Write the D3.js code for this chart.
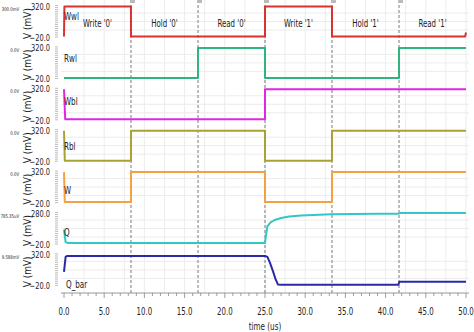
<!DOCTYPE html>
<html><head><meta charset="utf-8">
<script src="https://cdn.jsdelivr.net/npm/d3@7"></script>
<style>
html,body{margin:0;padding:0;background:#fff;}
svg{display:block;font-family:"DejaVu Sans Condensed","Liberation Sans",Arial,sans-serif;}
</style></head>
<body><svg id="c" width="474" height="332"></svg>
<script>
// ---- data ----
const signalNames = ["Wwl","Rwl","Wbl","Rbl","W","Q","Q_bar"];
const cursorValues = ["300.0mV","0.0V","0.0V","0.0V","0.0V","785.35uV","9.588mV"];
const yTop = [320,320,320,320,320,280,320];
const yBottom = [-20,-20,-20,-20,-20,-20,-20];
const phaseLabels = ["Write '0'","Hold '0'","Read '0'","Write '1'","Hold '1'","Read '1'"];
const phaseBounds = [0,8.33,16.67,25,33.33,41.67,50];
const xTicks = [0,5,10,15,20,25,30,35,40,45,50];

const wwlT = [0,0.05,8.33,8.33,25,25,33.33,33.33,49.9,50];
const wwlV = [0,300,300,0,0,300,300,0,0,40];
const rwlT = [0,16.67,16.67,25,25,41.67,41.67,50];
const rwlV = [0,0,300,300,0,0,300,300];
const wblT = [0,0.15,25,25,50];
const wblV = [300,0,0,300,300];
const rblT = [0,0.1,8.33,8.33,25,25,33.33,33.33,50];
const rblV = [300,0,0,300,300,0,0,300,300];
const wT = [0,0.1,8.33,8.33,25,25,33.33,33.33,50];
const wV = [300,0,0,300,300,0,0,300,300];
const qT = [0,0.2,0.5,25,25.1,25.3,25.7,26.2,27,28,29.5,31,33.3,36,39,41.6,41.8,50];
const qV = [120,10,2,2,60,150,185,205,222,235,244,250,255,258,260,261,266,267];
const qbT = [0,0.2,0.4,25,25.3,25.6,26,26.3,26.6,27,41.6,41.7,50];
const qbV = [130,280,290,290,280,225,135,60,5,2,2,32,32];
const seriesT = [wwlT,rwlT,wblT,rblT,wT,qT,qbT];
const seriesV = [wwlV,rwlV,wblV,rblV,wV,qV,qbV];
const colors = ["#d8332f","#2fb37f","#e027e0","#a8a235","#f5a043","#33c6c6","#2a2aa6"];

// ---- layout ----
const svg = d3.select("#c");
const x = d3.scaleLinear().domain([0,50]).range([64,466]);
const plotLeft = 61, plotRight = 469;
const panelTop = i => 4.5 + 41.4*i;
const panelH = 34;
const axisY = 293;
const nameOffset = [12,13,14,18,20,21,0];

function txt(px, py, s, size, anchor, sx, rot){
  const g = svg.append("g").attr("transform",`translate(${px},${py})${rot?` rotate(${rot})`:""} scale(${sx},1)`);
  g.append("text").attr("x",0).attr("y",0).attr("text-anchor",anchor||"start")
    .attr("font-size",size).attr("fill","#222").text(s);
  return g;
}

// grid
const grid = svg.append("g");
for (let i=0;i<7;i++){
  const t = panelTop(i);
  for (let k=1;k<4;k++){
    grid.append("line").attr("x1",plotLeft).attr("x2",plotRight)
      .attr("y1",t+panelH*k/4).attr("y2",t+panelH*k/4)
      .attr("stroke","#ececec").attr("stroke-width",1);
  }
}
d3.range(2.5,50.1,2.5).forEach(v=>{
  grid.append("line").attr("x1",x(v)).attr("x2",x(v)).attr("y1",0).attr("y2",axisY)
    .attr("stroke","#ececec").attr("stroke-width",1);
});

// phase dashed lines
phaseBounds.slice(1,-1).forEach(b=>{
  svg.append("line").attr("x1",x(b)).attr("x2",x(b)).attr("y1",0).attr("y2",axisY)
    .attr("stroke","#7a7a7a").attr("stroke-width",1).attr("stroke-dasharray","3,2");
  svg.append("rect").attr("x",x(b)).attr("y",0).attr("width",4).attr("height",3)
    .attr("fill","#bbb");
});

// phase labels
phaseLabels.forEach((lab,i)=>{
  txt(x((phaseBounds[i]+phaseBounds[i+1])/2), 27, lab, 10, "middle", 0.78);
});

// panels
for (let i=0;i<7;i++){
  const t = panelTop(i);
  const y = d3.scaleLinear().domain([yBottom[i],yTop[i]]).range([t+panelH,t]);
  // y minor ticks column
  d3.range(0,16).forEach(k=>{
    const yy = t+1+k*2.1;
    svg.append("line").attr("x1",55).attr("x2",58).attr("y1",yy).attr("y2",yy)
      .attr("stroke","#aaa").attr("stroke-width",0.8);
  });
  // tick labels
  txt(50, y(yTop[i])+5, d3.format(".1f")(yTop[i]), 9.5, "end", 0.78);
  txt(50, y(yBottom[i])+2.5, d3.format(".1f")(yBottom[i]), 9.5, "end", 0.78);
  // V (mV)
  txt(31, t+panelH/2+2, "V (mV)", 10, "middle", 1, -90);
  // cursor value
  txt(19, t+6, cursorValues[i], 5, "end", 0.85);
  // line
  const pts = seriesT[i].map((tt,k)=>[tt,seriesV[i][k]]);
  svg.append("path").datum(pts)
    .attr("d",d3.line().x(d=>x(d[0])).y(d=>y(d[1])))
    .attr("fill","none").attr("stroke",colors[i]).attr("stroke-width",2)
    .attr("stroke-linejoin","round");
  // name label
  const ly = i===6 ? t+panelH+1 : t+nameOffset[i]+3.5;
  txt(i===6?66:64, ly, signalNames[i], 10, "start", 0.8);
}

// x axis
const axisG = svg.append("g").attr("transform",`translate(0,${axisY})`);
axisG.append("line").attr("x1",plotLeft).attr("x2",plotRight).attr("y1",0).attr("y2",0)
  .attr("stroke","#999").attr("stroke-width",1);
d3.range(0,50.01,1).forEach(v=>{
  const major = Math.abs(v%5)<1e-6;
  axisG.append("line").attr("x1",x(v)).attr("x2",x(v)).attr("y1",0).attr("y2",major?5:3)
    .attr("stroke","#888").attr("stroke-width",0.8);
});
xTicks.forEach(v=>{
  txt(x(v), axisY+22, d3.format(".1f")(v), 10, "middle", 0.78);
});
txt(x(25), 330, "time (us)", 10, "middle", 0.8);
</script></body></html>
